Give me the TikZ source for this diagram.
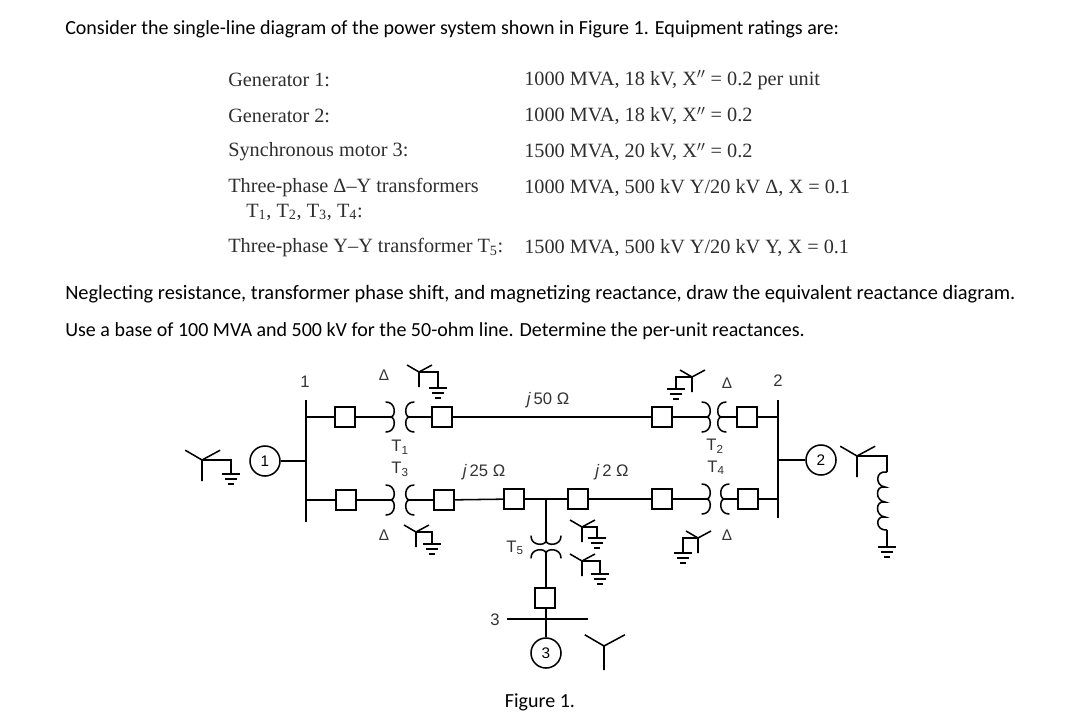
\documentclass[tikz,border=0pt]{standalone}
\usepackage{fontspec}
\setmainfont{Carlito}
\newfontfamily\tablefont{Liberation Serif}
\newfontfamily\figfont{Liberation Sans}
\usepackage{tikz}
\usetikzlibrary{positioning}

\tikzset{
	line/.style={line width=1.15pt},
	breaker/.style={draw, line width=1.15pt, fill=white, minimum size=15pt, inner sep=0pt},
	gencircle/.style={draw, circle, line width=1.15pt, minimum size=22.5pt, inner sep=0pt, font=\figfont\fontsize{11.5}{13}\selectfont},
	prose/.style={anchor=west, inner sep=0pt, font=\fontsize{15}{17}\selectfont},
	tabletext/.style={anchor=west, inner sep=0pt, text=black!82, font=\tablefont\fontsize{15.2}{17}\selectfont},
	figlabel/.style={inner sep=0pt, text=black!80, font=\figfont\fontsize{12.5}{14}\selectfont},
	deltalabel/.style={inner sep=0pt, text=black!80, font=\figfont\fontsize{11.5}{13}\selectfont},
	% half of a transformer, cusp at the origin
	coil/.pic={\draw[line, line cap=round] (-5,-15) .. controls (5,-15) and (5,-1) .. (0,0) .. controls (5,1) and (5,15) .. (-5,15);},
	wye/.pic={\draw[line] (-12,-7) -- (0,0) -- (13,-7) (0,0) -- (0,15);},
	gnd/.pic={\draw[line] (-9,0) -- (9,0) (-6,5) -- (6,5) (-3,10) -- (3,10);}
}
\newcommand{\gndwye}[3][1]{\pic[scale=#1] at (#2) {wye}; \draw[line] (#2) -| (#3); \pic at (#3) {gnd};}

\begin{document}
\begin{tikzpicture}[x=0.75pt, y=-0.75pt]
	\useasboundingbox (0,0) rectangle (1075,715);

	% Text above the figure
	\node[prose] (intro) at (65,29) {Consider the single-line diagram of the power system shown in Figure 1. Equipment ratings are:};
	\node[tabletext] (gone) at (228,80) {Generator 1:};
	\node[tabletext] (gtwo) at (228,116) {Generator 2:};
	\node[tabletext] (motor) at (228,152) {Synchronous motor 3:};
	\node[tabletext] (tfa) at (228,188) {Three-phase Δ–Y transformers};
	\node[tabletext] (tfb) at (246,212) {T\textsubscript{1}, T\textsubscript{2}, T\textsubscript{3}, T\textsubscript{4}:};
	\node[tabletext] (tfc) at (228,248) {Three-phase Y–Y transformer T\textsubscript{5}:};
	\node[tabletext] (gonev) at (524,80) {1000 MVA, 18 kV, X$''$ = 0.2 per unit};
	\node[tabletext] (gtwov) at (524,116) {1000 MVA, 18 kV, X$''$ = 0.2};
	\node[tabletext] (motorv) at (524,152) {1500 MVA, 20 kV, X$''$ = 0.2};
	\node[tabletext] (tfav) at (524,188) {1000 MVA, 500 kV Y/20 kV Δ, X = 0.1};
	\node[tabletext] (tfcv) at (524,248) {1500 MVA, 500 kV Y/20 kV Y, X = 0.1};
	\node[prose, font=\fontsize{15.3}{17}\selectfont] (negl) at (65,294) {Neglecting resistance, transformer phase shift, and magnetizing reactance, draw the equivalent reactance diagram.};
	\node[prose] (base) at (65,331) {Use a base of 100 MVA and 500 kV for the 50-ohm line. Determine the per-unit reactances.};

	% Buses
	\coordinate (bus1t) at (306,400);
	\coordinate (bus1b) at (306,522);
	\coordinate (bus2t) at (778,400);
	\coordinate (bus2b) at (778,518);
	\coordinate (bus3l) at (507,619);
	\coordinate (bus3r) at (588,619);
	\draw[line] (bus1t) -- (bus1b);
	\draw[line] (bus2t) -- (bus2b);
	\draw[line] (bus3l) -- (bus3r);
	\node[figlabel] (lab1) at (305,382) {1};
	\node[figlabel] (lab2) at (778,381) {2};
	\node[figlabel] (lab3) at (495,620) {3};

	% Machines
	\node[gencircle] (gen1) at (265,461) {1};
	\node[gencircle] (gen2) at (821,460) {2};
	\node[gencircle] (mot3) at (546,653) {3};
	\draw[line] (gen1) -- (gen1 -| bus1t);
	\draw[line] (gen2) -- (gen2 -| bus2t);

	% Breakers
	\node[breaker] (cb1) at (345,417) {};
	\node[breaker] (cb2) at (442,417) {};
	\node[breaker] (cb3) at (662,417) {};
	\node[breaker] (cb4) at (747,417) {};
	\node[breaker] (cb5) at (346,500) {};
	\node[breaker] (cb6) at (444,500) {};
	\node[breaker] (cb7) at (514,499) {};
	\node[breaker] (cb8) at (578,499) {};
	\node[breaker] (cb9) at (662,499) {};
	\node[breaker] (cb10) at (748,499) {};
	\node[breaker] (cb11) at (545,598) {};

	% Transformers
	\coordinate (t1l) at (391,417);
	\coordinate (t1r) at (409,417);
	\coordinate (t2l) at (707,417);
	\coordinate (t2r) at (721,417);
	\coordinate (t3l) at (391,500);
	\coordinate (t3r) at (409,500);
	\coordinate (t4l) at (707,499);
	\coordinate (t4r) at (724,499);
	\coordinate (t5a) at (546,541);
	\coordinate (t5b) at (546,553);
	\pic at (t1l) {coil};
	\pic[xscale=-1] at (t1r) {coil};
	\pic at (t2l) {coil};
	\pic[xscale=-1] at (t2r) {coil};
	\pic at (t3l) {coil};
	\pic[xscale=-1] at (t3r) {coil};
	\pic at (t4l) {coil};
	\pic[xscale=-1] at (t4r) {coil};
	\pic[rotate=-90] at (t5a) {coil};
	\pic[rotate=90] at (t5b) {coil};

	% Top line
	\draw[line] (cb1 -| bus1t) -- (cb1);
	\draw[line] (cb1) -- (t1l);
	\draw[line] (t1r) -- (cb2);
	\draw[line] (cb2) -- (cb3);
	\draw[line] (cb3) -- (t2l);
	\draw[line] (t2r) -- (cb4);
	\draw[line] (cb4) -- (cb4 -| bus2t);

	% Bottom line
	\coordinate (tee) at (546,499);
	\draw[line] (cb5 -| bus1t) -- (cb5);
	\draw[line] (cb5) -- (t3l);
	\draw[line] (t3r) -- (cb6);
	\draw[line] (cb6) -- (cb7);
	\draw[line] (cb7) -- (tee);
	\draw[line] (tee) -- (cb8);
	\draw[line] (cb8) -- (cb9);
	\draw[line] (cb9) -- (t4l);
	\draw[line] (t4r) -- (cb10);
	\draw[line] (cb10) -- (cb10 -| bus2t);

	% Motor branch
	\draw[line] (tee) -- (t5a);
	\draw[line] (t5b) -- (cb11.north -| t5b);
	\draw[line] (cb11.south -| t5b) -- (mot3);

	% Grounded wyes
	\gndwye[1.4]{202,460}{231,474}
	\gndwye{419,372}{438,388}
	\gndwye{416,532}{432,544}
	\gndwye{692,377}{676,389}
	\gndwye{698,538}{683,553}
	\gndwye{582,527}{597,538}
	\gndwye{582,561}{600,574}

	% Generator 2 wye with reactor
	\pic[scale=1.4] at (857,456) {wye};
	\coordinate (rtop) at (887,472);
	\coordinate (rbot) at (887,530);
	\coordinate (rgnd) at (887,547);
	\draw[line] (857,456) -| (rtop);
	\draw[line] (rtop) .. controls (875,470) and (875,486) .. (885,487)
		.. controls (875,485) and (875,501) .. (885,502)
		.. controls (875,500) and (875,516) .. (885,517)
		.. controls (875,515) and (875,531) .. (rbot);
	\draw[line] (rbot) -- (rgnd);
	\pic at (rgnd) {gnd};

	% Motor wye
	\pic[scale=1.6] at (604,646) {wye};

	% Labels
	\node[deltalabel] (d1) at (384,375) {Δ};
	\node[deltalabel] (d2) at (727,383) {Δ};
	\node[deltalabel] (d3) at (384,535) {Δ};
	\node[deltalabel] (d4) at (727,535) {Δ};
	\node[figlabel] (namet1) at (400,447) {T\textsubscript{1}};
	\node[figlabel] (namet3) at (400,469) {T\textsubscript{3}};
	\node[figlabel] (namet2) at (715,446) {T\textsubscript{2}};
	\node[figlabel] (namet4) at (716,468) {T\textsubscript{4}};
	\node[figlabel] (namet5) at (515,548) {T\textsubscript{5}};
	\node[figlabel] (z50) at (548,400) {\textit{j}\,50 Ω};
	\node[figlabel] (z25) at (484,472) {\textit{j}\,25 Ω};
	\node[figlabel] (z2) at (612,472) {\textit{j}\,2 Ω};
	\node[prose, anchor=center] (fig) at (540,702) {Figure 1.};
\end{tikzpicture}
\end{document}
